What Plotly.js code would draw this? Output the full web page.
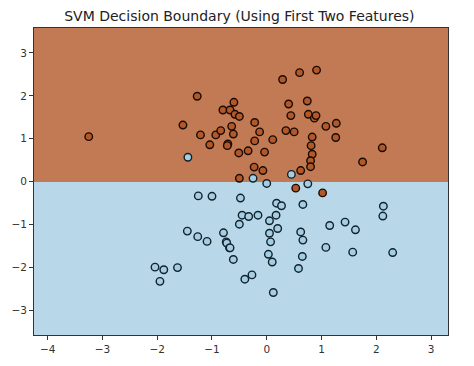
<!DOCTYPE html>
<html>
<head>
<meta charset="utf-8">
<script src="https://cdn.plot.ly/plotly-3.0.1.min.js"></script>
<style>html,body{margin:0;padding:0;background:#fff;}#chart{width:474px;height:366px;}</style>
</head>
<body>
<div id="chart"></div>
<script>
// Class 1 (brown) samples: first feature, second feature
const class1X = [-3.25,-1.27,-1.53,-1.21,-1.04,-0.93,-0.84,-0.80,-0.67,-0.60,-0.58,-0.50,-0.64,-0.61,-0.71,-0.72,-0.51,-0.34,-0.22,-0.13,-0.22,-0.04,0.11,-0.23,-0.07,-0.50,0.29,0.60,0.91,0.40,0.44,0.35,0.50,0.74,0.76,0.87,0.90,0.83,0.81,0.83,0.80,0.80,0.62,1.08,1.27,1.26,1.75,2.11,0.53,1.02];
const class1Y = [1.05,1.99,1.32,1.09,0.86,1.09,1.19,1.67,1.67,1.85,1.57,1.52,1.29,1.11,0.88,0.84,0.67,0.72,1.38,1.16,0.95,0.69,0.98,0.34,0.26,0.08,2.38,2.54,2.60,1.81,1.54,1.19,1.16,1.88,1.57,1.48,1.54,1.04,0.84,0.64,0.49,0.35,0.26,1.29,1.36,1.03,0.46,0.79,-0.15,-0.26];
// Class 0 (light blue) samples
const class0X = [-1.44,-0.25,0.45,0.00,0.75,-1.25,-1.00,-0.48,0.18,0.27,0.66,-0.45,-0.33,-0.16,0.17,0.05,-0.50,0.20,0.05,0.07,-1.45,-1.26,-1.09,-0.79,-0.74,-0.73,-0.68,-0.67,-0.61,0.03,0.10,0.62,0.66,0.65,0.58,-2.04,-1.88,-1.63,-1.95,-0.40,-0.27,0.12,1.15,1.43,1.62,1.08,1.57,2.13,2.12,2.30];
const class0Y = [0.57,0.08,0.17,-0.04,-0.05,-0.33,-0.34,-0.38,-0.50,-0.56,-0.53,-0.78,-0.81,-0.78,-0.78,-0.91,-0.99,-1.09,-1.20,-1.40,-1.15,-1.28,-1.39,-1.19,-1.40,-1.43,-1.54,-1.54,-1.81,-1.69,-1.87,-1.17,-1.36,-1.74,-2.02,-1.99,-2.05,-2.00,-2.32,-2.27,-2.17,-2.58,-1.02,-0.94,-1.12,-1.53,-1.64,-0.57,-0.80,-1.65];
// Decision region grid (cell edges) and predicted class per cell
const gridXEdges = [-4.25, 3.31];
const gridYEdges = [-3.57, 0.01, 3.58];
const gridClass = [[0],[1]];
const xTicks = [-4,-3,-2,-1,0,1,2,3];
const yTicks = [-3,-2,-1,0,1,2,3];
const xTickText = ['\u22124','\u22123','\u22122','\u22121','0','1','2','3'];
const yTickText = ['\u22123','\u22122','\u22121','0','1','2','3'];

const blueFill = '#b8d8e9', brownFill = '#c17a53';
const traces = [
  {type:'heatmap', x:gridXEdges, y:gridYEdges, z:gridClass, zmin:0, zmax:1,
   colorscale:[[0,blueFill],[1,brownFill]], showscale:false, hoverinfo:'skip'},
  {type:'scatter', mode:'markers', x:class1X, y:class1Y,
   marker:{size:7.5, color:'#b15928', line:{color:'#1a0a04', width:1.4}}},
  {type:'scatter', mode:'markers', x:class0X, y:class0Y,
   marker:{size:7.5, color:'#a6cee3', line:{color:'#10222c', width:1.4}}}
];
const axisCommon = {showgrid:false, zeroline:false, ticks:'outside', ticklen:4, tickwidth:1,
  tickcolor:'#333', showline:true, linecolor:'#333', linewidth:1, mirror:true,
  tickfont:{family:'DejaVu Sans', size:10.5, color:'#333'}};
const layout = {
  width:474, height:366, showlegend:false,
  margin:{l:34, r:26, t:28, b:31},
  paper_bgcolor:'#fff', plot_bgcolor:'#fff',
  title:{text:'SVM Decision Boundary (Using First Two Features)', x:0.505, xanchor:'center', y:0.955, yanchor:'middle',
    font:{family:'DejaVu Sans', size:14, color:'#222'}},
  xaxis:Object.assign({}, axisCommon, {range:[-4.25,3.31], tickvals:xTicks, ticktext:xTickText}),
  yaxis:Object.assign({}, axisCommon, {range:[-3.57,3.58], tickvals:yTicks, ticktext:yTickText})
};
Plotly.newPlot('chart', traces, layout, {displayModeBar:false, staticPlot:true});
</script>
</body>
</html>
